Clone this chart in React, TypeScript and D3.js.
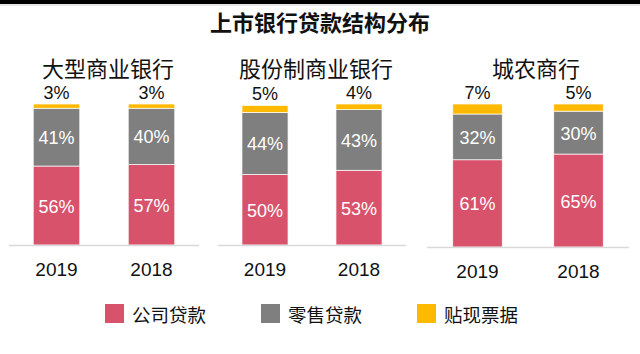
import React from 'react';
import * as d3 from 'd3';

const title = '上市银行贷款结构分布';
const groups = ['大型商业银行', '股份制商业银行', '城农商行'];
const years = ['2019', '2018'];
const seriesNames = ['公司贷款', '零售贷款', '贴现票据'];
// per group, per year (%)
const corporate = [[56, 57], [50, 53], [61, 65]];
const retail = [[41, 40], [44, 43], [32, 30]];
const discount = [[3, 3], [5, 4], [7, 5]];

const colors = ['#D9526C', '#7F7F7F', '#FFB900'];
const FONT = '"Liberation Sans", Arial, "Noto Sans CJK SC", sans-serif';
const CJK = '"Noto Sans CJK SC", "Liberation Sans", sans-serif';

// panel layout: x extent, baseline, title center
const panels = [
  { x0: 9, x1: 199, base: 245, titleX: 108 },
  { x0: 218, x1: 406, base: 245, titleX: 316 },
  { x0: 427, x1: 629, base: 247, titleX: 536 },
];
const barTop = 104;

const Panel = ({ gi }: { gi: number }) => {
  const p = panels[gi];
  const x = d3.scaleBand().domain(years).range([p.x0, p.x1]).paddingInner(0.51).paddingOuter(0.255);
  const y = d3.scaleLinear().domain([0, 100]).range([p.base, barTop]);

  const rows = years.map((yr, i) => ({
    year: yr,
    corporate: corporate[gi][i],
    retail: retail[gi][i],
    discount: discount[gi][i],
  }));
  const stack = d3.stack<any>().keys(['corporate', 'retail', 'discount'])(rows);

  return (
    <g>
      <text x={p.titleX} y={67} textAnchor="middle" dominantBaseline="central"
        fontFamily={CJK} fontSize={22} fill="#111">{groups[gi]}</text>
      {stack.map((layer, si) => (
        <g key={si}>
          {layer.map((d, i) => {
            const bx = x(years[i])!;
            const bw = x.bandwidth();
            const v = d[1] - d[0];
            const yTop = y(d[1]);
            const h = y(d[0]) - y(d[1]);
            return (
              <g key={i}>
                <rect x={bx} y={yTop} width={bw} height={h} fill={colors[si]}
                  stroke="#fff" strokeWidth={0.7} />
                {si < 2 ? (
                  <text x={bx + bw / 2} y={yTop + h / 2 + 1} textAnchor="middle"
                    dominantBaseline="central" fontFamily={FONT} fontSize={18} fill="#fff">
                    {v}%
                  </text>
                ) : (
                  <text x={bx + bw / 2} y={yTop - 5} textAnchor="middle"
                    fontFamily={FONT} fontSize={18} fill="#111">
                    {v}%
                  </text>
                )}
              </g>
            );
          })}
        </g>
      ))}
      <line x1={p.x0} x2={p.x1} y1={p.base + 0.5} y2={p.base + 0.5} stroke="#D9D9D9" strokeWidth={1.5} />
      {years.map((yr) => (
        <text key={yr} x={x(yr)! + x.bandwidth() / 2} y={p.base + 31} textAnchor="middle"
          fontFamily={FONT} fontSize={19} fill="#111">{yr}</text>
      ))}
    </g>
  );
};

export default function App() {
  const legendX = d3.scalePoint().domain(seriesNames).range([105, 417]);
  return (
    <svg width={640} height={354} style={{ position: 'absolute', left: 0, top: 0, background: '#fff' }}>
      <rect x={0} y={0} width={640} height={4} fill="#000" />
      <line x1={0} x2={640} y1={5} y2={5} stroke="#ccc" strokeWidth={1} />
      <text x={320} y={21} textAnchor="middle" dominantBaseline="central"
        fontFamily={CJK} fontWeight="bold" fontSize={22} fill="#111">{title}</text>
      {groups.map((_, gi) => <Panel key={gi} gi={gi} />)}
      {seriesNames.map((s, i) => (
        <g key={s} transform={`translate(${legendX(s)},304)`}>
          <rect x={0} y={0} width={19} height={19} fill={colors[i]} />
          <text x={27} y={10} dominantBaseline="central" fontFamily={CJK} fontSize={18.5} fill="#111">{s}</text>
        </g>
      ))}
    </svg>
  );
}
